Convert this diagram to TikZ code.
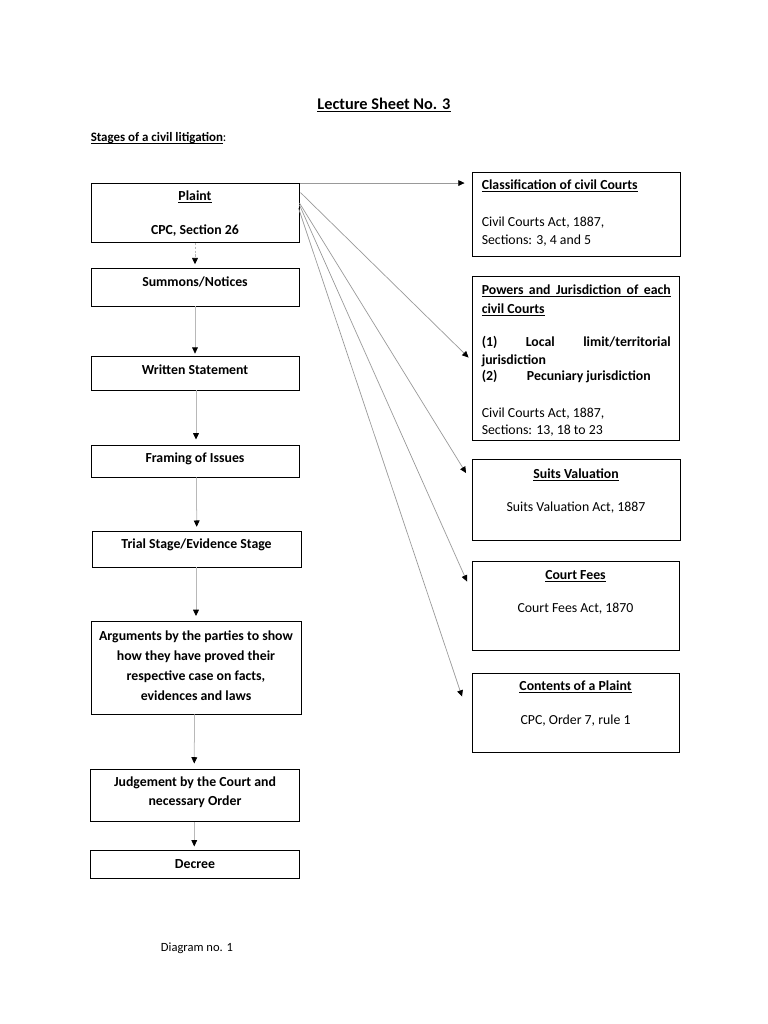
\documentclass[tikz,border=0pt]{standalone}
\usepackage{fontspec}
\setmainfont{Carlito}
\usetikzlibrary{arrows.meta,fit,calc}
\newcommand\undl[1]{\setbox0\hbox{#1}\rlap{\rule[-1.8pt]{\wd0}{0.6pt}}\box0}
\begin{document}
\begin{tikzpicture}[x=0.796875pt,y=-0.796875pt,
  box/.style={draw=black, line width=0.75pt, inner sep=0pt},
  ltxt/.style={inner sep=0pt, anchor=base, font=\fontsize{11}{13}\selectfont\bfseries},
  rtxt/.style={inner sep=0pt, anchor=base west, font=\fontsize{11}{13}\selectfont},
  rctr/.style={inner sep=0pt, anchor=base, font=\fontsize{11}{13}\selectfont},
  tipb/.style={-{Triangle[color=black,length=5pt,width=4.6pt]}},
  vconn/.style={tipb, draw=black!28, line width=0.6pt, shorten >=3pt},
  dconn/.style={tipb, draw=black!40, line width=0.55pt}]
\useasboundingbox (0,0) rectangle (768,1024);
\fill[white] (0,0) rectangle (768,1024);

% headings
\node[inner sep=0pt, anchor=base, font=\fontsize{13}{15}\selectfont\bfseries] (title) at (384,109) {\undl{Lecture Sheet No. 3}};
\node[inner sep=0pt, anchor=base west, font=\fontsize{10.3}{12}\selectfont] (stages) at (90.5,141.5) {\undl{\bfseries Stages of a civil litigation}:};

% left column boxes
\node[box, fit={(91,183.5) (299,242.5)}] (plaint) {};
\node[box, fit={(91,268.5) (299,306)}] (summons) {};
\node[box, fit={(91,356) (299,390)}] (written) {};
\node[box, fit={(91,445) (299,477)}] (framing) {};
\node[box, fit={(92,531) (301,567)}] (trial) {};
\node[box, fit={(91.5,621.5) (301.5,714)}] (args) {};
\node[box, fit={(90.5,769) (299,821.5)}] (judg) {};
\node[box, fit={(90.5,850) (299,878.5)}] (decree) {};

% left column texts
\node[ltxt] (plaintT) at (195,200.5) {\undl{Plaint}};
\node[ltxt] (plaintS) at (195,234.5) {CPC, Section 26};
\node[ltxt] (summonsT) at (195,286) {Summons/Notices};
\node[ltxt] (writtenT) at (195,374.5) {Written Statement};
\node[ltxt] (framingT) at (195,462) {Framing of Issues};
\node[ltxt] (trialT) at (196.5,548) {Trial Stage/Evidence Stage};
\node[ltxt] (argsA) at (196,640) {Arguments by the parties to show};
\node[ltxt] (argsB) at (196,660) {how they have proved their};
\node[ltxt] (argsC) at (196,680) {respective case on facts,};
\node[ltxt] (argsD) at (196,700) {evidences and laws};
\node[ltxt] (judgA) at (195,786) {Judgement by the Court and};
\node[ltxt] (judgB) at (195,805.5) {necessary Order};
\node[ltxt] (decreeT) at (195,868) {Decree};

% right column boxes
\node[box, fit={(472.5,172) (680,256)}] (class) {};
\node[box, fit={(472.5,276) (679,440)}] (powers) {};
\node[box, fit={(472.5,459.5) (680,540.5)}] (suits) {};
\node[box, fit={(472.5,561) (679,650)}] (fees) {};
\node[box, fit={(472.5,673.5) (679,752)}] (contents) {};

% right column texts
\node[rtxt, font=\fontsize{11}{13}\selectfont\bfseries] (classT) at (481.5,189.5) {\undl{Classification of civil Courts}};
\node[rtxt] (classA) at (481.5,226) {Civil Courts Act, 1887,};
\node[rtxt] (classB) at (481.5,244) {Sections: 3, 4 and 5};

\node[rtxt, font=\fontsize{11}{13}\selectfont\bfseries] (powT) at (481.5,294.5) {\undl{\makebox[150.6pt][s]{Powers and Jurisdiction of each}}};
\node[rtxt, font=\fontsize{11}{13}\selectfont\bfseries] (powT2) at (481.5,313.5) {\undl{civil Courts}};
\node[rtxt, font=\fontsize{11}{13}\selectfont\bfseries] (pow1) at (481.5,346) {\makebox[150.6pt][s]{(1) Local limit/territorial}};
\node[rtxt, font=\fontsize{11}{13}\selectfont\bfseries] (pow1b) at (481.5,364) {jurisdiction};
\node[rtxt, font=\fontsize{11}{13}\selectfont\bfseries] (pow2) at (481.5,380.5) {\makebox[36pt][l]{(2)}Pecuniary jurisdiction};
\node[rtxt] (powA) at (481.5,417) {Civil Courts Act, 1887,};
\node[rtxt] (powB) at (481.5,434) {Sections: 13, 18 to 23};

\node[rctr, font=\fontsize{11}{13}\selectfont\bfseries] (suitsT) at (576,478) {\undl{Suits Valuation}};
\node[rctr] (suitsA) at (576,511) {Suits Valuation Act, 1887};
\node[rctr, font=\fontsize{11}{13}\selectfont\bfseries] (feesT) at (575.5,579.5) {\undl{Court Fees}};
\node[rctr] (feesA) at (575.5,612) {Court Fees Act, 1870};
\node[rctr, font=\fontsize{11}{13}\selectfont\bfseries] (contT) at (575.5,690.5) {\undl{Contents of a Plaint}};
\node[rctr] (contA) at (575.5,724) {CPC, Order 7, rule 1};

\node[inner sep=0pt, anchor=base, font=\fontsize{10}{12}\selectfont] (diag) at (197,951) {Diagram no. 1};

% vertical connectors
\draw[vconn, dashed, dash pattern=on 2pt off 1pt] (plaint.south) -- (summons.north);
\draw[vconn, shorten >=1.5pt] (summons.south) -- (written.north);
\draw[vconn, shorten >=4pt] ($(written.south)+(1,0)$) -- ($(framing.north)+(1,0)$);
\draw[vconn] ($(framing.south)+(1.5,0)$) -- ($(trial.north)+(0.2,0)$);
\draw[vconn, shorten >=4pt] ($(trial.south)+(-0.5,0)$) -- ($(args.north)+(-0.5,0)$);
\draw[vconn, shorten >=4pt] ($(args.south)+(-2,0)$) -- ($(judg.north)+(-0.5,0)$);
\draw[vconn, shorten >=2.5pt] ($(judg.south)+(-0.5,0)$) -- ($(decree.north)+(-0.5,0)$);

% fan-out connectors from the plaint
\draw[dconn] ($(plaint.north east)+(1,0)$) -- ($(class.north west)+(-7.5,11.5)$);
\draw[dconn] ($(plaint.north east)+(1,9.5)$) -- ($(powers.north west)+(-3.5,82)$);
\draw[dconn] ($(plaint.north east)+(0,20)$) -- ($(suits.north west)+(-6,14)$);
\draw[dconn] ($(plaint.north east)+(0,22)$) -- ($(fees.north west)+(-5,21)$);
\draw[dconn] ($(plaint.north east)+(-1,25)$) -- ($(contents.north west)+(-10,23.5)$);
\end{tikzpicture}
\end{document}
